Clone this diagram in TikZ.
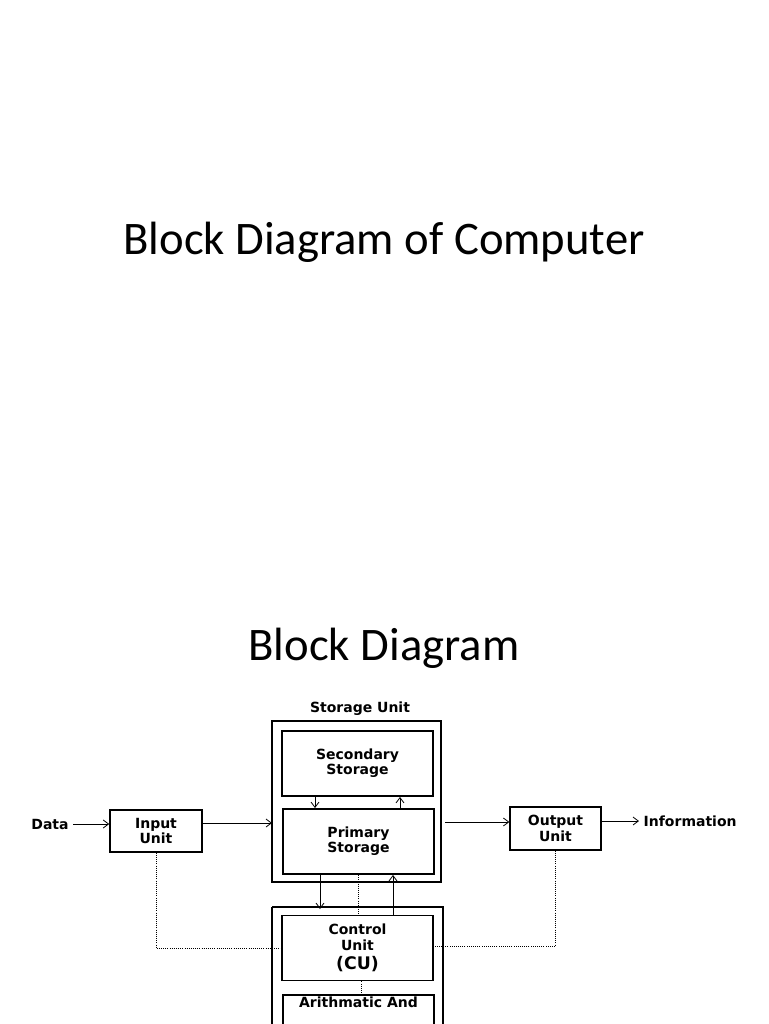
\documentclass[tikz,border=0pt]{standalone}
\usepackage{fontspec}
\setmainfont{Carlito}
\newfontfamily\boxfont{DejaVu Sans}
\usetikzlibrary{arrows.meta}
\tikzset{
  unit/.style={draw,line width=1.2pt,inner sep=0pt,font=\boxfont\bfseries\fontsize{10.5}{11.5}\selectfont,align=center},
  frame/.style={draw,line width=1.2pt},
  label/.style={font=\boxfont\bfseries\fontsize{10.5}{11.5}\selectfont},
  flow/.style={->,line width=0.6pt},
  ctrl/.style={densely dotted,line width=0.6pt}
}
\begin{document}
\begin{tikzpicture}[x=0.75pt,y=-0.75pt,>={Straight Barb[length=4pt,width=6pt]}]
        \useasboundingbox (0,0) rectangle (768,1024);
        \clip (0,0) rectangle (768,1024);

        % titles
        \node[font=\fontsize{35}{40}\selectfont] (title) at (384,242) {Block Diagram of Computer};
        \node[font=\fontsize{35}{40}\selectfont] (sub) at (384,648) {Block Diagram};

        % storage unit
        \node[label] (stlabel) at (360,709) {Storage Unit};
        \draw[frame] (272,721) rectangle (441,882);
        \coordinate (stin) at (272,823);
        \coordinate (stout) at (445,822);
        \node[unit,minimum width=113pt,minimum height=49pt] (sec) at (357.5,763.5) {Secondary\\Storage};
        \node[unit,minimum width=113pt,minimum height=49pt] (prim) at (358.5,841.5) {Primary\\Storage};

        % input and output
        \node[label] (data) at (50,824) {Data};
        \node[unit,minimum width=69pt,minimum height=31.5pt] (in) at (156,831) {Input\\Unit};
        \node[unit,minimum width=68pt,minimum height=32pt] (out) at (555.5,828.5) {Output\\Unit};
        \node[label,anchor=west] (info) at (639,821) {Information};

        % processing unit
        \draw[frame] (272,907) -- (272,1030);
        \draw[frame] (272,907) -- (443,907) -- (443,1030);
        \coordinate (cutop) at (320,909);
        \node[unit,minimum width=113pt,minimum height=49pt] (cu) at (357.5,948) {Control\\Unit\\[3pt]{\fontsize{13}{14}\selectfont(CU)}};
        \node[unit,minimum width=113pt,minimum height=49pt,anchor=north,text depth=38pt] (alu) at (358.5,994) {Arithmatic And};

        % data flow
        \draw[flow] (data.east |- 0,824) -- (in.west |- 0,824);
        \draw[flow] (in.east |- stin) -- (stin);
        \draw[flow] (stout) -- (out.west |- stout);
        \draw[flow] (out.east |- info) -- (info);
        \draw[flow] (sec.south -| 315,0) -- (prim.north -| 315,0);
        \draw[flow] (prim.north -| 400,0) -- (sec.south -| 400,0);
        \draw[flow] (prim.south -| 320,0) -- (cutop);
        \draw[flow] (cu.north -| 393,0) -- (prim.south -| 393,0);

        % control signals
        \draw[ctrl] (prim.south -| 358,0) -- (cu.north -| 358,0);
        \draw[ctrl] (in.south) |- (cu.west |- 0,948);
        \draw[ctrl] (out.south) |- (cu.east |- 0,946);
        \draw[ctrl] (cu.south -| 361,0) -- (alu.north -| 361,0);
\end{tikzpicture}
\end{document}
